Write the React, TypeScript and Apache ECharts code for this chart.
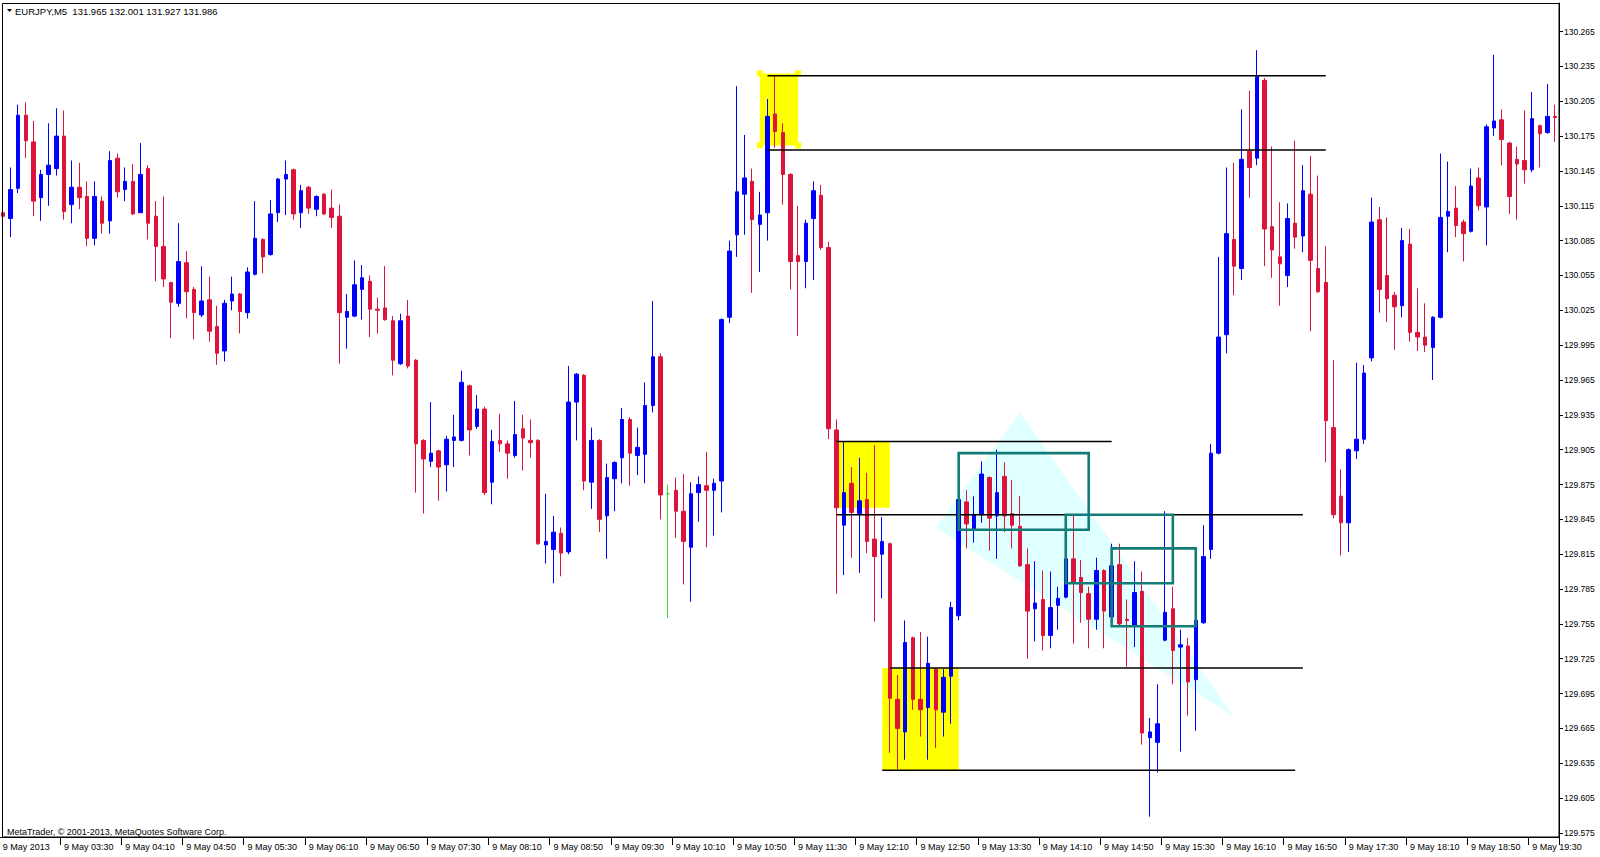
import React, { useEffect, useRef } from 'react';
import * as echarts from 'echarts';

// 5-minute bars, 9 May 2013, starting 02:50
const START_MIN = 170;
const BAR_COUNT = 204;
const times: string[] = Array.from({ length: BAR_COUNT }, (_, i) => {
  const m = START_MIN + 5 * i;
  const hh = String(Math.floor(m / 60)).padStart(2, '0');
  const mm = String(m % 60).padStart(2, '0');
  return `9 May ${hh}:${mm}`;
});

// [open, high, low, close]
const ohlc: number[][] = [
  [130.109, 130.124, 130.080, 130.106], [130.104, 130.148, 130.088, 130.129], [130.130, 130.202, 130.126, 130.193], [130.193, 130.204, 130.156, 130.171],
  [130.170, 130.188, 130.106, 130.119], [130.122, 130.146, 130.102, 130.142], [130.142, 130.186, 130.115, 130.150], [130.147, 130.199, 130.141, 130.175],
  [130.175, 130.197, 130.103, 130.110], [130.116, 130.154, 130.100, 130.131], [130.131, 130.152, 130.112, 130.122], [130.123, 130.136, 130.080, 130.087],
  [130.087, 130.136, 130.081, 130.123], [130.119, 130.123, 130.091, 130.100], [130.102, 130.162, 130.091, 130.154], [130.156, 130.160, 130.122, 130.127],
  [130.129, 130.148, 130.119, 130.136], [130.136, 130.151, 130.107, 130.108], [130.109, 130.169, 130.109, 130.142], [130.147, 130.150, 130.086, 130.100],
  [130.106, 130.119, 130.050, 130.080], [130.080, 130.123, 130.045, 130.052], [130.049, 130.049, 130.001, 130.032], [130.031, 130.100, 130.028, 130.067],
  [130.066, 130.076, 130.018, 130.041], [130.043, 130.045, 130.000, 130.023], [130.021, 130.063, 130.019, 130.033], [130.034, 130.054, 129.998, 130.007],
  [130.011, 130.029, 129.978, 129.988], [129.990, 130.034, 129.981, 130.031], [130.033, 130.054, 130.025, 130.039], [130.039, 130.040, 130.005, 130.024],
  [130.023, 130.062, 130.018, 130.058], [130.056, 130.119, 130.055, 130.087], [130.086, 130.087, 130.057, 130.071], [130.073, 130.120, 130.072, 130.108],
  [130.109, 130.139, 130.101, 130.138], [130.138, 130.154, 130.107, 130.142], [130.146, 130.147, 130.103, 130.108], [130.109, 130.133, 130.096, 130.128],
  [130.131, 130.132, 130.108, 130.113], [130.112, 130.124, 130.106, 130.123], [130.125, 130.126, 130.107, 130.108], [130.113, 130.129, 130.096, 130.105],
  [130.106, 130.116, 129.979, 130.023], [130.019, 130.039, 129.992, 130.024], [130.020, 130.068, 130.019, 130.047], [130.043, 130.064, 130.017, 130.053],
  [130.050, 130.055, 130.002, 130.026], [130.026, 130.036, 130.005, 130.025], [130.027, 130.063, 130.016, 130.017], [130.016, 130.020, 129.969, 129.982],
  [129.979, 130.022, 129.978, 130.016], [130.020, 130.034, 129.975, 129.977], [129.982, 129.983, 129.868, 129.910], [129.913, 129.914, 129.850, 129.897],
  [129.895, 129.946, 129.890, 129.902], [129.904, 129.905, 129.861, 129.890], [129.892, 129.917, 129.869, 129.914], [129.913, 129.935, 129.890, 129.916],
  [129.913, 129.973, 129.912, 129.963], [129.960, 129.961, 129.900, 129.922], [129.925, 129.952, 129.923, 129.940], [129.940, 129.942, 129.866, 129.868],
  [129.877, 129.922, 129.858, 129.912], [129.913, 129.936, 129.903, 129.910], [129.910, 129.913, 129.880, 129.902], [129.900, 129.947, 129.898, 129.918],
  [129.923, 129.935, 129.887, 129.915], [129.913, 129.931, 129.898, 129.911], [129.913, 129.914, 129.823, 129.824], [129.823, 129.867, 129.807, 129.826],
  [129.819, 129.848, 129.790, 129.834], [129.833, 129.838, 129.796, 129.816], [129.817, 129.977, 129.815, 129.946], [129.946, 129.971, 129.913, 129.970],
  [129.969, 129.970, 129.870, 129.878], [129.877, 129.924, 129.854, 129.913], [129.913, 129.914, 129.834, 129.845], [129.848, 129.893, 129.811, 129.881],
  [129.880, 129.895, 129.852, 129.894], [129.898, 129.941, 129.876, 129.931], [129.931, 129.933, 129.874, 129.902], [129.900, 129.924, 129.883, 129.907],
  [129.901, 129.963, 129.876, 129.943], [129.943, 130.033, 129.937, 129.985], [129.985, 129.988, 129.845, 129.866], [129.867, 129.875, 129.760, 129.867],
  [129.870, 129.881, 129.829, 129.852], [129.852, 129.884, 129.789, 129.826], [129.821, 129.877, 129.774, 129.867], [129.868, 129.882, 129.843, 129.875],
  [129.874, 129.903, 129.821, 129.870], [129.870, 129.880, 129.831, 129.876], [129.878, 130.018, 129.851, 130.017], [130.019, 130.085, 130.014, 130.076],
  [130.090, 130.218, 130.071, 130.127], [130.125, 130.176, 130.090, 130.139], [130.136, 130.147, 130.040, 130.103], [130.099, 130.127, 130.058, 130.107],
  [130.109, 130.207, 130.085, 130.192], [130.194, 130.227, 130.165, 130.179], [130.178, 130.186, 130.116, 130.142], [130.142, 130.143, 130.043, 130.067],
  [130.072, 130.115, 130.003, 130.067], [130.067, 130.103, 130.044, 130.100], [130.104, 130.136, 130.051, 130.128], [130.124, 130.133, 130.077, 130.079],
  [130.079, 130.084, 129.914, 129.923], [129.922, 129.931, 129.781, 129.855], [129.840, 129.912, 129.797, 129.868], [129.876, 129.890, 129.812, 129.851],
  [129.850, 129.898, 129.799, 129.861], [129.862, 129.885, 129.816, 129.826], [129.828, 129.909, 129.757, 129.813], [129.815, 129.847, 129.777, 129.826],
  [129.824, 129.825, 129.644, 129.691], [129.690, 129.711, 129.630, 129.665], [129.662, 129.758, 129.638, 129.739], [129.743, 129.744, 129.681, 129.690],
  [129.690, 129.748, 129.658, 129.681], [129.683, 129.744, 129.638, 129.721], [129.716, 129.717, 129.648, 129.681], [129.679, 129.716, 129.658, 129.709],
  [129.710, 129.774, 129.669, 129.769], [129.762, 129.863, 129.758, 129.862], [129.860, 129.870, 129.820, 129.841], [129.837, 129.865, 129.825, 129.849],
  [129.849, 129.895, 129.842, 129.884], [129.881, 129.882, 129.818, 129.846], [129.848, 129.905, 129.811, 129.868], [129.882, 129.894, 129.834, 129.848],
  [129.850, 129.879, 129.820, 129.840], [129.839, 129.865, 129.804, 129.805], [129.806, 129.820, 129.725, 129.766], [129.768, 129.809, 129.740, 129.773],
  [129.776, 129.801, 129.732, 129.745], [129.745, 129.800, 129.734, 129.769], [129.771, 129.787, 129.750, 129.777], [129.778, 129.812, 129.777, 129.811],
  [129.811, 129.849, 129.738, 129.791], [129.795, 129.810, 129.756, 129.782], [129.781, 129.787, 129.734, 129.759], [129.759, 129.812, 129.750, 129.801],
  [129.801, 129.802, 129.734, 129.766], [129.761, 129.824, 129.760, 129.805], [129.806, 129.824, 129.754, 129.755], [129.759, 129.776, 129.718, 129.758],
  [129.753, 129.809, 129.735, 129.782], [129.783, 129.800, 129.651, 129.661], [129.657, 129.674, 129.589, 129.662], [129.653, 129.703, 129.627, 129.669],
  [129.741, 129.852, 129.740, 129.765], [129.768, 129.787, 129.703, 129.732], [129.735, 129.750, 129.645, 129.737], [129.736, 129.743, 129.676, 129.705],
  [129.707, 129.759, 129.663, 129.758], [129.756, 129.840, 129.755, 129.813], [129.819, 129.910, 129.811, 129.902], [129.902, 130.071, 129.901, 130.002],
  [130.004, 130.148, 129.988, 130.091], [130.086, 130.152, 130.038, 130.063], [130.061, 130.198, 130.051, 130.155], [130.162, 130.214, 130.122, 130.148],
  [130.156, 130.249, 130.150, 130.226], [130.223, 130.225, 130.063, 130.095], [130.097, 130.166, 130.053, 130.077], [130.071, 130.118, 130.029, 130.065],
  [130.055, 130.117, 130.045, 130.104], [130.100, 130.171, 130.078, 130.088], [130.089, 130.150, 130.075, 130.128], [130.125, 130.158, 130.007, 130.068],
  [130.061, 130.141, 130.040, 130.041], [130.049, 130.080, 129.894, 129.930], [129.924, 129.982, 129.846, 129.849], [129.865, 129.888, 129.814, 129.842],
  [129.842, 129.906, 129.817, 129.905], [129.904, 129.980, 129.897, 129.914], [129.914, 129.978, 129.910, 129.971], [129.984, 130.122, 129.981, 130.101],
  [130.103, 130.114, 130.023, 130.043], [130.055, 130.105, 130.015, 130.035], [130.038, 130.041, 129.991, 130.028], [130.029, 130.096, 130.019, 130.085],
  [130.082, 130.095, 129.998, 130.006], [130.006, 130.044, 129.990, 130.002], [130.002, 130.031, 129.989, 129.995], [129.993, 130.020, 129.965, 130.019],
  [130.019, 130.160, 130.018, 130.105], [130.106, 130.153, 130.075, 130.110], [130.113, 130.132, 130.088, 130.098], [130.101, 130.103, 130.067, 130.091],
  [130.093, 130.147, 130.092, 130.132], [130.139, 130.148, 130.111, 130.115], [130.114, 130.185, 130.081, 130.183], [130.182, 130.245, 130.175, 130.188],
  [130.189, 130.198, 130.150, 130.172], [130.169, 130.170, 130.108, 130.123], [130.155, 130.166, 130.103, 130.151], [130.154, 130.197, 130.134, 130.146],
  [130.146, 130.213, 130.144, 130.190], [130.184, 130.185, 130.148, 130.177], [130.178, 130.220, 130.177, 130.192], [130.192, 130.202, 130.170, 130.191],
];

const priceTicks: number[] = [
  129.575, 129.605, 129.635, 129.665, 129.695, 129.725, 129.755, 129.785, 129.815, 129.845, 129.875, 129.905,
  129.935, 129.965, 129.995, 130.025, 130.055, 130.085, 130.115, 130.145, 130.175, 130.205, 130.235, 130.265,
];
const PRICE_MIN = 129.5715;
const PRICE_MAX = 130.2896;

// drawn objects: [fromBar, toBar, topPrice, bottomPrice, selected]
const yellowZones: number[][] = [
  [99, 104, 130.229, 130.167, 1],
  [109, 116, 129.912, 129.855, 0],
  [115, 125, 129.717, 129.629, 0],
];
const tealBoxes: number[][] = [
  [125, 142, 129.902, 129.836],
  [139, 153, 129.849, 129.790],
  [145, 156, 129.820, 129.753],
];
// [fromBar, toBar, price]
const levels: number[][] = [
  [100, 173, 130.227],
  [100, 173, 130.163],
  [109, 145, 129.912],
  [109, 170, 129.849],
  [116, 170, 129.717],
  [115, 169, 129.629],
];
// triangle vertices [bar, price]
const triangle: number[][] = [
  [133, 129.937],
  [122, 129.838],
  [161, 129.675],
];

const TITLE = 'EURJPY,M5  131.965 132.001 131.927 131.986';
const COPYRIGHT = 'MetaTrader, © 2001-2013, MetaQuotes Software Corp.';
const FONT = '"Liberation Sans", Arial, sans-serif';

export default function App() {
  const ref = useRef<HTMLDivElement>(null);
  useEffect(() => {
    if (!ref.current) return;
    const chart = echarts.init(ref.current, undefined, { renderer: 'svg' });
    const option: any = {
      animation: false,
      backgroundColor: '#ffffff',
      grid: { left: -1, right: 41, top: 3, bottom: 20, show: false, outerBoundsMode: 'none' },
      xAxis: {
        type: 'category',
        data: times,
        boundaryGap: true,
        axisLine: { show: true, lineStyle: { color: '#000', width: 1 } },
        axisTick: { show: true, interval: 7, length: 8, lineStyle: { color: '#000' } },
        axisLabel: {
          interval: 7,
          align: 'left',
          margin: 5,
          color: '#000',
          fontSize: 9,
          fontFamily: FONT,
          formatter: (v: string, i: number) => (i === 0 ? '9 May 2013' : v),
        },
        splitLine: { show: false },
      },
      yAxis: {
        type: 'value',
        position: 'right',
        min: PRICE_MIN,
        max: PRICE_MAX,
        scale: true,
        axisLine: { show: true, lineStyle: { color: '#000', width: 1 } },
        axisTick: { show: true, length: 4, customValues: priceTicks, lineStyle: { color: '#000' } },
        axisLabel: {
          customValues: priceTicks,
          margin: 5,
          color: '#000',
          fontSize: 8.5,
          fontFamily: FONT,
          formatter: (v: number) => v.toFixed(3),
        },
        splitLine: { show: false },
      },
      series: [
        {
          type: 'custom',
          z: 1,
          silent: true,
          data: [triangle.flat()],
          encode: { x: [0, 2, 4], y: [1, 3, 5] },
          renderItem: (_p: any, api: any) => {
            const pts = [0, 1, 2].map((k) => api.coord([api.value(2 * k), api.value(2 * k + 1)]));
            return { type: 'polygon', shape: { points: pts }, style: { fill: '#e0ffff' } };
          },
        },
        {
          type: 'custom',
          z: 1,
          silent: true,
          data: yellowZones,
          encode: { x: [0, 1], y: [2, 3] },
          renderItem: (_p: any, api: any) => {
            const a = api.coord([api.value(0), api.value(2)]);
            const b = api.coord([api.value(1), api.value(3)]);
            const children: any[] = [
              { type: 'rect', shape: { x: a[0], y: a[1], width: b[0] - a[0], height: b[1] - a[1] }, style: { fill: '#ffff00' } },
            ];
            if (api.value(4) === 1) {
              const s = 6;
              [[a[0], a[1]], [b[0], a[1]], [a[0], b[1]], [b[0], b[1]]].forEach(([cx, cy]) => {
                children.push({ type: 'rect', shape: { x: cx - s / 2, y: cy - s / 2, width: s, height: s }, style: { fill: '#ffff00' } });
              });
            }
            return { type: 'group', children };
          },
        },
        {
          type: 'candlestick',
          z: 2,
          data: ohlc.map(([o, h, l, c]) => [o, c, l, h]),
          barWidth: 4,
          itemStyle: {
            color: '#0000ff',
            color0: '#dc143c',
            borderColor: '#0000ff',
            borderColor0: '#dc143c',
            borderColorDoji: '#33dd33',
            borderWidth: 1,
          },
        },
        {
          type: 'custom',
          z: 3,
          silent: true,
          data: levels,
          encode: { x: [0, 1], y: [2] },
          renderItem: (_p: any, api: any) => {
            const a = api.coord([api.value(0), api.value(2)]);
            const b = api.coord([api.value(1), api.value(2)]);
            return { type: 'line', shape: { x1: a[0], y1: a[1], x2: b[0], y2: b[1] }, style: { stroke: '#000', lineWidth: 1.6 } };
          },
        },
        {
          type: 'custom',
          z: 3,
          silent: true,
          data: tealBoxes,
          encode: { x: [0, 1], y: [2, 3] },
          renderItem: (_p: any, api: any) => {
            const a = api.coord([api.value(0), api.value(2)]);
            const b = api.coord([api.value(1), api.value(3)]);
            return {
              type: 'rect',
              shape: { x: a[0], y: a[1], width: b[0] - a[0], height: b[1] - a[1] },
              style: { fill: 'none', stroke: '#137b78', lineWidth: 2.6 },
            };
          },
        },
      ],
      graphic: [
        {
          type: 'rect',
          z: 100,
          silent: true,
          shape: { x: 2.5, y: 3.5, width: 1556.5, height: 833.5 },
          style: { fill: 'none', stroke: '#000', lineWidth: 1 },
        },
        {
          type: 'polygon',
          z: 100,
          silent: true,
          shape: { points: [[7, 9], [12, 9], [9.5, 12]] },
          style: { fill: '#000' },
        },
        {
          type: 'text',
          z: 100,
          silent: true,
          x: 15,
          y: 11,
          style: { text: TITLE, fill: '#000', font: `9.5px ${FONT}`, textVerticalAlign: 'middle', verticalAlign: 'middle' },
        },
        {
          type: 'text',
          z: 100,
          silent: true,
          x: 7,
          y: 832,
          style: { text: COPYRIGHT, fill: '#000', font: `9px ${FONT}`, textVerticalAlign: 'middle', verticalAlign: 'middle' },
        },
      ],
    };
    chart.setOption(option);
    return () => chart.dispose();
  }, []);
  return <div ref={ref} style={{ position: 'fixed', left: 0, top: 0, width: 1600, height: 857, background: '#fff' }} />;
}
